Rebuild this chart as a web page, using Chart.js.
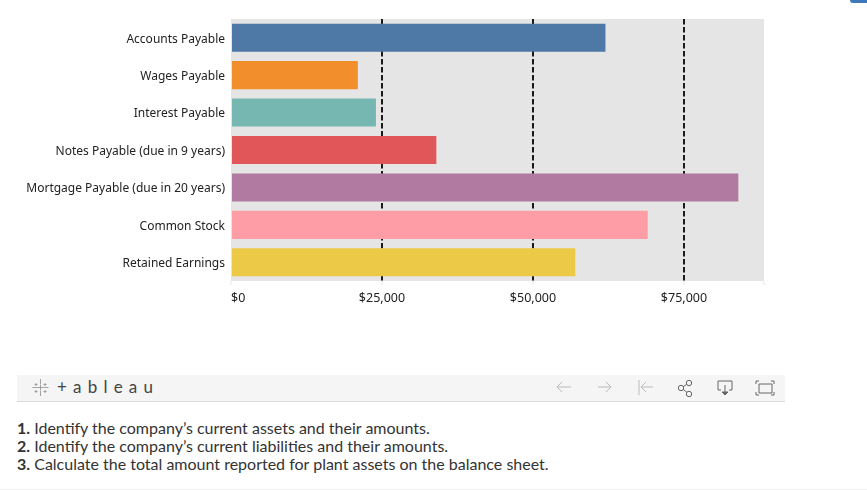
<!DOCTYPE html>
<html><head><meta charset="utf-8">
<script src="https://cdn.jsdelivr.net/npm/chart.js@4"></script>
<style>
html,body{margin:0;padding:0;background:#fff;width:867px;height:490px;overflow:hidden}
#wrap{position:absolute;left:0;top:0;width:867px;height:330px}
#tab{position:absolute;right:0;top:0;width:17px;height:3px;background:#3d78bb;border-bottom-left-radius:3px}
#bar{position:absolute;left:17px;top:375px;width:768px;height:26px;background:#f5f5f5;border-bottom:1px solid #dcdcdc}
#logo{position:absolute;left:57px;top:377px;font:17px Lato,sans-serif;letter-spacing:6.2px;color:#444;line-height:20px}
#icons{position:absolute;left:17px;top:375px}
#q{position:absolute;left:17px;top:419px;font:16px/18px Lato,sans-serif;color:#333}
#q b{font-weight:700}
#foot{position:absolute;left:0;top:489px;width:867px;height:1px;background:#eee}
</style></head><body>
<div id="wrap"><canvas id="c"></canvas></div>
<div id="tab"></div>
<div id="bar"></div>
<svg id="icons" width="768" height="26" fill="none" stroke="#bbb" stroke-width="1">
  <g stroke="#999">
    <path d="M23.5 4v5M23.5 16v5M15.5 12.5h5M26.5 12.5h5M19 8v3M17.5 9.5h3M28 8v3M26.5 9.5h3M19 15v3M17.5 16.5h3M28 15v3M26.5 16.5h3M23.5 9.5v6M20.5 12.5h6" stroke-width="0.9"/>
  </g>
  <path d="M540 12h14M540 12l5-5M540 12l5 5M581 12h13M594 12l-5-5M594 12l-5 5M622 5v15M624 12h12M624 12l5-5M624 12l5 5"/>
  <g stroke="#666">
    <circle cx="672" cy="8" r="2.7"/><circle cx="664" cy="13" r="2.7"/><circle cx="672" cy="19" r="2.7"/>
    <path d="M666.3 11.6l3.4-2.2M666.3 14.5l3.4 2.6"/>
    <path d="M704 15h-3V6h14v9h-3M708 10v8"/>
    <path d="M705 17h6l-3 3z" fill="#666"/>
    <path d="M742 9h13v9h-13zM742 6h-3v3M754 6h3v3M742 20h-3v-3M754 20h3v-3"/>
  </g>
</svg>
<div id="logo">+ableau</div>
<div id="q"><b>1.</b> Identify the company’s current assets and their amounts.<br><b>2.</b> Identify the company’s current liabilities and their amounts.<br><b>3.</b> Calculate the total amount reported for plant assets on the balance sheet.</div>
<div id="foot"></div>
<script>
const categories = ["Accounts Payable","Wages Payable","Interest Payable","Notes Payable (due in 9 years)","Mortgage Payable (due in 20 years)","Common Stock","Retained Earnings"];
const amounts = [62000,21000,24000,34000,84000,69000,57000];
const barColors = ["#4e79a7","#f28e2b","#76b7b2","#e15759","#b07aa1","#ff9da7","#edc948"];
const tickValues = [0,25000,50000,75000];
const axisMax = 88250;

const plotBg = {id:"plotBg",beforeDraw(ch){const a=ch.chartArea,g=ch.ctx;g.save();g.fillStyle="#e5e5e5";g.fillRect(a.left,a.top,a.right-a.left,a.bottom-a.top);g.restore();}};
const fmt = v => "$"+Number(v).toLocaleString("en-US");
new Chart(document.getElementById("c"),{
  type:"bar",
  plugins:[plotBg],
  data:{labels:categories,datasets:[{data:amounts,backgroundColor:barColors,barPercentage:0.75,categoryPercentage:1,borderWidth:0}]},
  options:{
    indexAxis:"y",responsive:true,maintainAspectRatio:false,animation:false,
    layout:{padding:{top:19,right:103,left:0,bottom:0}},
    plugins:{legend:{display:false},tooltip:{enabled:false}},
    scales:{
      y:{grid:{display:false,drawTicks:false,tickLength:0},border:{display:false},
         ticks:{color:"#222",padding:6,labelOffset:1.5,font:{family:"Noto Sans",size:12},autoSkip:false},
         afterFit(s){s.width=231;}},
      x:{min:0,max:axisMax,
         afterBuildTicks(s){s.ticks=[...tickValues,axisMax].map(v=>({value:v}));},
         afterFit(s){s.height=49;},
         grid:{drawTicks:true,tickLength:4,lineWidth:2,tickWidth:1,tickColor:"#e6e6e6",
               color:c=>(c.tick&&tickValues.includes(c.tick.value)&&c.tick.value>0)?"#1a1a1a":"rgba(0,0,0,0)",
               tickBorderDash:[]},
         border:{display:false,dash:[5.5,2.5]},
         ticks:{align:"inner",color:"#222",padding:6,maxRotation:0,autoSkip:false,font:{family:"Noto Sans",size:12.5},
                callback:v=>tickValues.includes(v)?fmt(v):""}}
    }
  }
});
</script>
</body></html>
